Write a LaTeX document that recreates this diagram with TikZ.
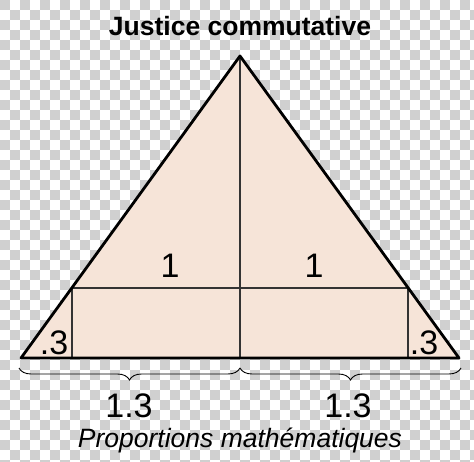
\documentclass[tikz,border=0pt]{standalone}
\usepackage{fontspec}
\setmainfont{Liberation Sans}
\usetikzlibrary{decorations.pathreplacing}
\definecolor{peach}{RGB}{246,228,216}
\definecolor{checker}{RGB}{208,208,208}

\begin{document}
\begin{tikzpicture}[x=1pt, y=-1pt,
    edge/.style={line width=2.8pt, line join=round},
    split/.style={line width=1.6pt, color=black!80},
    curly/.style={decorate, decoration={brace, mirror, amplitude=12pt}, line width=0.9pt},
    number/.style={font=\fontsize{34}{34}\selectfont, anchor=base, inner sep=0pt},
    heading/.style={font=\fontsize{26.5}{26.5}\selectfont\bfseries, anchor=base, inner sep=0pt},
    caption/.style={font=\fontsize{26.5}{26.5}\selectfont\itshape, anchor=base, inner sep=0pt}]
    \useasboundingbox (0,0) rectangle (474,462);
    % transparency checkerboard
    \begin{scope}
        \clip (0,0) rectangle (474,462);
        \foreach \i in {0,2,...,46}
            \foreach \j in {0,2,...,46} {
                \fill[checker] (\i*10,\j*10) rectangle ++(10,10);
                \fill[checker] (\i*10+10,\j*10+10) rectangle ++(10,10);
            }
    \end{scope}
    \coordinate (apex) at (240,56);
    \coordinate (left) at (21,358);
    \coordinate (right) at (459,358);
    \coordinate (mid) at (240,358);
    \coordinate (lefttop) at (72,288);
    \coordinate (righttop) at (408,288);
    \coordinate (leftfoot) at (72,358);
    \coordinate (rightfoot) at (408,358);
    \fill[peach] (apex) -- (right) -- (left) -- cycle;
    \draw[split] (apex) -- (mid);
    \draw[split] (lefttop) -- (righttop);
    \draw[split] (lefttop) -- (leftfoot);
    \draw[split] (righttop) -- (rightfoot);
    \draw[edge] (apex) -- (right) -- (left) -- cycle;
    % braces under the base
    \coordinate (bl) at (19,368);
    \coordinate (bm) at (240,368);
    \coordinate (br) at (461,368);
    \draw[curly] (bl) -- (bm);
    \draw[curly] (bm) -- (br);
    \node[heading] (title) at (240,36) {Justice commutative};
    \node[number] (oneleft) at (170,278) {1};
    \node[number] (oneright) at (314,278) {1};
    \node[number] (ptleft) at (54,355) {.3};
    \node[number] (ptright) at (424,355) {.3};
    \node[number] (sumleft) at (129,417) {1.3};
    \node[number] (sumright) at (348,417) {1.3};
    \node[caption] (note) at (240,447) {Proportions mathématiques};
\end{tikzpicture}
\end{document}
